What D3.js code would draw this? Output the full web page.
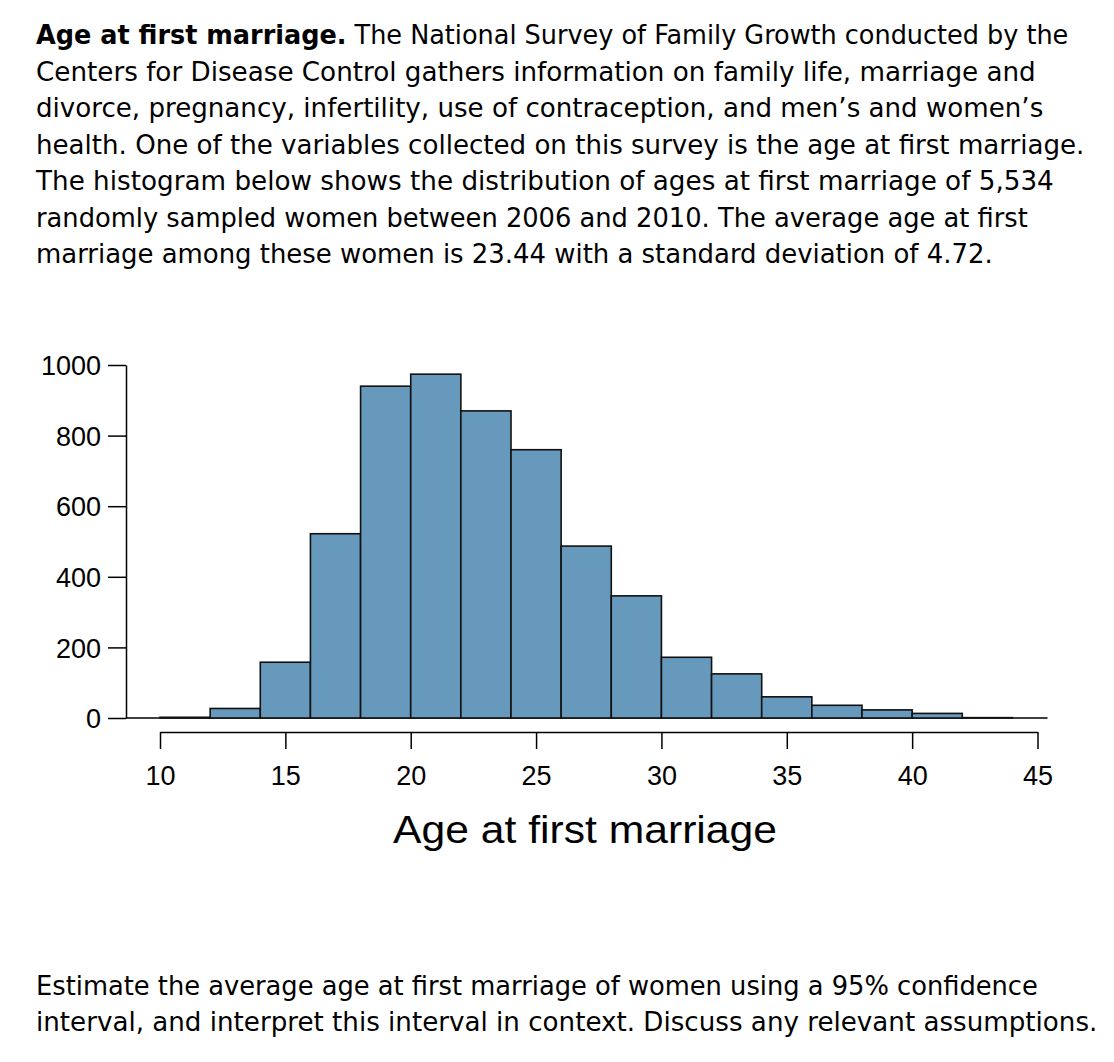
<!DOCTYPE html>
<html>
<head>
<meta charset="utf-8">
<script src="https://cdn.jsdelivr.net/npm/d3@7"></script>
<style>
  html, body { margin: 0; padding: 0; background: #fff; }
  svg { display: block; }
</style>
</head>
<body>
<svg id="chart" width="1114" height="1062"></svg>
<script>
// ---- data ----
const binStarts = [10, 12, 14, 16, 18, 20, 22, 24, 26, 28, 30, 32, 34, 36, 38, 40, 42];
const binWidth = 2;
const counts = [2, 27, 158, 522, 940, 974, 870, 760, 487, 346, 172, 125, 60, 36, 23, 13, 1];
const xTicks = [10, 15, 20, 25, 30, 35, 40, 45];
const yTicks = [0, 200, 400, 600, 800, 1000];
const xLabel = "Age at first marriage";

const introBold = "Age at first marriage.";
const introLines = [
  " The National Survey of Family Growth conducted by the",
  "Centers for Disease Control gathers information on family life, marriage and",
  "divorce, pregnancy, infertility, use of contraception, and men\u2019s and women\u2019s",
  "health. One of the variables collected on this survey is the age at first marriage.",
  "The histogram below shows the distribution of ages at first marriage of 5,534",
  "randomly sampled women between 2006 and 2010. The average age at first",
  "marriage among these women is 23.44 with a standard deviation of 4.72."
];
const questionLines = [
  "Estimate the average age at first marriage of women using a 95% confidence",
  "interval, and interpret this interval in context. Discuss any relevant assumptions."
];

// ---- layout ----
const svg = d3.select("#chart");
const textFont = "'DejaVu Sans', sans-serif";
const chartFont = "'Liberation Sans', Arial, sans-serif";

function fitLine(g, x, y, targetWidth) {
  const bb = g.node().getBBox();
  const sx = targetWidth / bb.width;
  g.attr("transform", `translate(${x},${y}) scale(${sx},1)`);
}

// intro paragraph
const introRight = [1069, 1036, 1044, 1085, 1055, 1028, 993];
const introBase = [44, 80.5, 117, 153.5, 190, 226.5, 263];
introLines.forEach((line, i) => {
  const g = svg.append("g");
  const t = g.append("text")
    .attr("font-family", textFont)
    .attr("font-size", 26)
    .attr("fill", "#000");
  if (i === 0) {
    t.append("tspan").attr("font-weight", "bold").text(introBold);
  }
  t.append("tspan").text(line);
  fitLine(g, 36, introBase[i], introRight[i] - 36);
});

// question paragraph
const qRight = [1038, 1098];
const qBase = [995, 1031];
questionLines.forEach((line, i) => {
  const g = svg.append("g");
  g.append("text")
    .attr("font-family", textFont)
    .attr("font-size", 26)
    .attr("fill", "#000")
    .text(line);
  fitLine(g, 36, qBase[i], qRight[i] - 36);
});

// scales
const x = d3.scaleLinear().domain([10, 45]).range([160, 1037.5]);
const y = d3.scaleLinear().domain([0, 1000]).range([718, 365]);

// baseline
svg.append("line")
  .attr("x1", 126)
  .attr("x2", x(45.4))
  .attr("y1", y(0)).attr("y2", y(0))
  .attr("stroke", "#000").attr("stroke-width", 1.5);

// bars
svg.append("g").selectAll("rect")
  .data(binStarts.map((s, i) => ({ s, c: counts[i] })))
  .join("rect")
  .attr("x", d => x(d.s))
  .attr("width", d => x(d.s + binWidth) - x(d.s))
  .attr("y", d => y(d.c))
  .attr("height", d => y(0) - y(d.c))
  .attr("fill", "#6699BC")
  .attr("stroke", "#111")
  .attr("stroke-width", 1.6);

// y axis
const yAxis = d3.axisLeft(y).tickValues(yTicks).tickFormat(d3.format("d"))
  .tickSize(18).tickPadding(7).tickSizeOuter(0);
const gy = svg.append("g").attr("transform", "translate(126,0)").call(yAxis);
gy.select(".domain").attr("stroke", "#000").attr("stroke-width", 1.5);
gy.selectAll(".tick line").attr("stroke", "#000").attr("stroke-width", 1.5);
gy.selectAll(".tick text").attr("font-family", chartFont).attr("font-size", 27).attr("fill", "#000")
  .attr("dy", "0.36em");

// x axis
const xAxis = d3.axisBottom(x).tickValues(xTicks).tickFormat(d3.format("d"))
  .tickSize(17).tickPadding(17).tickSizeOuter(0);
const gx = svg.append("g").attr("transform", "translate(0,732)").call(xAxis);
gx.select(".domain").attr("stroke", "#000").attr("stroke-width", 1.5);
gx.selectAll(".tick line").attr("stroke", "#000").attr("stroke-width", 1.5);
gx.selectAll(".tick text").attr("font-family", chartFont).attr("font-size", 27).attr("fill", "#000");

// x label
const xl = svg.append("g");
xl.append("text")
  .attr("font-family", chartFont)
  .attr("font-size", 38)
  .attr("text-anchor", "middle")
  .attr("fill", "#000")
  .text(xLabel);
{
  const bb = xl.node().getBBox();
  xl.attr("transform", `translate(585,843) scale(${384 / bb.width},1)`);
}
</script>
</body>
</html>
